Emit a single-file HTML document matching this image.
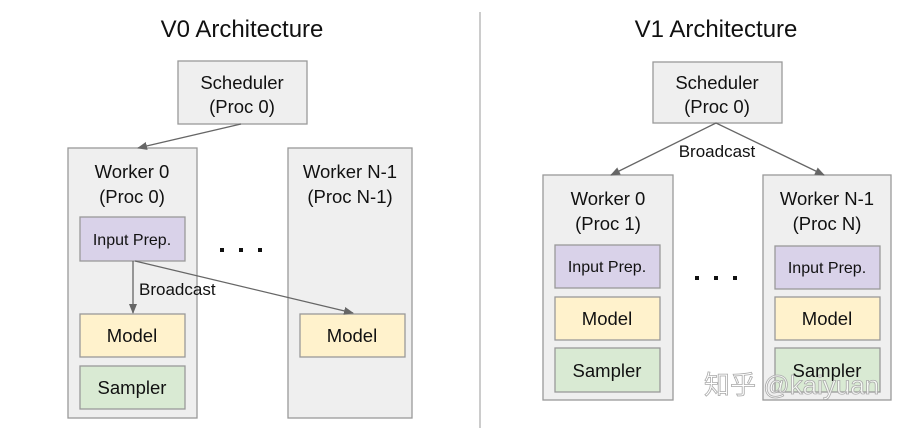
<!DOCTYPE html>
<html><head><meta charset="utf-8"><style>
html,body{margin:0;padding:0;background:#fff;}
svg{display:block;font-family:"Liberation Sans",Arial,sans-serif;}
</style></head><body>
<svg width="914" height="428" viewBox="0 0 914 428" xmlns="http://www.w3.org/2000/svg">
<defs><marker id="a" markerWidth="10" markerHeight="8" refX="9" refY="4" orient="auto" markerUnits="userSpaceOnUse"><path d="M0,0 L10,4 L0,8 z" fill="#666"/></marker></defs>
<line x1="480" y1="12" x2="480" y2="428" stroke="#bbb" stroke-width="1.5"/>
<g font-size="24" fill="#111" text-anchor="middle">
<text x="242" y="37">V0 Architecture</text>
<text x="716" y="37">V1 Architecture</text>
</g>
<g stroke="#999" stroke-width="1.3">
<rect x="178" y="61" width="129" height="63" fill="#efefef"/>
<rect x="68" y="148" width="129" height="270" fill="#efefef"/>
<rect x="288" y="148" width="124" height="270" fill="#efefef"/>
<rect x="80" y="217" width="105" height="44" fill="#d9d2e9"/>
<rect x="80" y="314" width="105" height="43" fill="#fff2cc"/>
<rect x="80" y="366" width="105" height="43" fill="#d9ead3"/>
<rect x="300" y="314" width="105" height="43" fill="#fff2cc"/>
<rect x="653" y="62" width="129" height="61" fill="#efefef"/>
<rect x="543" y="175" width="130" height="225" fill="#efefef"/>
<rect x="763" y="175" width="128" height="225" fill="#efefef"/>
<rect x="555" y="245" width="105" height="43" fill="#d9d2e9"/>
<rect x="555" y="297" width="105" height="43" fill="#fff2cc"/>
<rect x="555" y="348" width="105" height="44" fill="#d9ead3"/>
<rect x="775" y="246" width="105" height="43" fill="#d9d2e9"/>
<rect x="775" y="297" width="105" height="43" fill="#fff2cc"/>
<rect x="775" y="348" width="105" height="44" fill="#d9ead3"/>
</g>
<g stroke="#666" stroke-width="1.3" fill="none" marker-end="url(#a)">
<line x1="241" y1="124" x2="138" y2="148"/>
<line x1="133" y1="261" x2="133" y2="313"/>
<line x1="135" y1="261" x2="353" y2="313"/>
<line x1="716" y1="123" x2="611" y2="175"/>
<line x1="716" y1="123" x2="824" y2="175"/>
</g>
<g font-size="18.5" fill="#111" text-anchor="middle">
<text x="242" y="89">Scheduler</text><text x="242" y="113">(Proc 0)</text>
<text x="132" y="178">Worker 0</text><text x="132" y="203">(Proc 0)</text>
<text x="350" y="178">Worker N-1</text><text x="350" y="203">(Proc N-1)</text>
<text x="132" y="342">Model</text><text x="132" y="394">Sampler</text>
<text x="352" y="342">Model</text>
<text x="717" y="89">Scheduler</text><text x="717" y="113">(Proc 0)</text>
<text x="608" y="205">Worker 0</text><text x="608" y="230">(Proc 1)</text>
<text x="827" y="205">Worker N-1</text><text x="827" y="230">(Proc N)</text>
<text x="607" y="325">Model</text><text x="607" y="377">Sampler</text>
<text x="827" y="325">Model</text><text x="827" y="377">Sampler</text>
</g>
<g font-size="16" fill="#111" text-anchor="middle">
<text x="132" y="245">Input Prep.</text>
<text x="607" y="272">Input Prep.</text>
<text x="827" y="273">Input Prep.</text>
</g>
<g font-size="17" fill="#111">
<text x="139" y="295">Broadcast</text>
<text x="717" y="157" text-anchor="middle">Broadcast</text>
</g>
<g fill="#111">
<rect x="220" y="248" width="4" height="4"/><rect x="239" y="248" width="4" height="4"/><rect x="258" y="248" width="4" height="4"/>
<rect x="695" y="276" width="4" height="4"/><rect x="714" y="276" width="4" height="4"/><rect x="733" y="276" width="4" height="4"/>
</g>
<text x="704" y="394" font-size="26" fill="#fff" fill-opacity="0.75" stroke="#aaa" stroke-width="0.8" font-family="'Liberation Sans','Noto Sans CJK SC',sans-serif">知乎 @kaiyuan</text>
</svg>
</body></html>
